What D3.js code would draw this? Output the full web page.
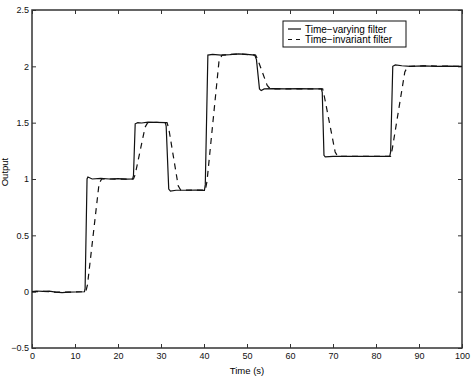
<!DOCTYPE html>
<html>
<head>
<meta charset="utf-8">
<script src="https://cdn.jsdelivr.net/npm/d3@7"></script>
<style>
  body { margin: 0; background: #fff; }
  text { font-family: "Liberation Sans", Arial, Helvetica, sans-serif; }
</style>
</head>
<body>
<div id="chart"></div>
<script>
// [time, output] pairs
const timeVarying = [
  [0, 0], [1, 0.006], [2.5, 0.002], [4, 0.004], [5.5, -0.004], [7, -0.009], [8.5, -0.004],
  [10, -0.003], [12.2, -0.001], [12.35, 0.03], [12.8, 1.0], [13.0, 1.018], [14, 1.0],
  [16, 1.005], [18, 1.0], [20, 1.004], [22, 0.999], [23.4, 1.0], [23.6, 1.03], [24.0, 1.49],
  [24.6, 1.5], [25.5, 1.497], [27, 1.505], [29, 1.502], [31.0, 1.5], [31.2, 1.47], [31.8, 0.91],
  [32.2, 0.892], [33.5, 0.9], [36, 0.9], [38, 0.902], [40.1, 0.9], [40.3, 0.95], [40.9, 2.1],
  [42, 2.106], [44, 2.1], [46, 2.104], [48, 2.11], [50, 2.106], [51.8, 2.1], [52.2, 2.06],
  [52.9, 1.8], [53.3, 1.785], [54, 1.8], [56, 1.802], [59, 1.8], [62, 1.803], [65, 1.8],
  [67.3, 1.8], [67.5, 1.77], [67.9, 1.21], [68.2, 1.196], [70, 1.2], [73, 1.202], [76, 1.2],
  [80, 1.2], [83.2, 1.2], [83.4, 1.24], [83.9, 2.0], [84.5, 2.012], [86, 2.005], [88, 2.0],
  [91, 2.004], [94, 2.0], [97, 2.002], [100, 2.0]
];

const timeInvariant = [
  [0, 0], [2.5, 0.002], [5.5, -0.004], [8.5, -0.004], [12.5, 0], [12.9, 0.06], [15.6, 0.96],
  [16.2, 1.0], [18, 1.0], [22, 0.999], [23.6, 1.0], [24.0, 1.04], [26.3, 1.46], [26.9, 1.5],
  [29, 1.502], [31.4, 1.5], [31.8, 1.45], [34.0, 0.94], [34.6, 0.9], [38, 0.902], [40.3, 0.9],
  [40.7, 0.98], [43.5, 2.05], [44.2, 2.1], [48, 2.11], [52.0, 2.1], [52.5, 2.06], [54.7, 1.83],
  [55.4, 1.8], [59, 1.8], [65, 1.8], [67.6, 1.8], [68.0, 1.73], [70.5, 1.24], [71.1, 1.2],
  [76, 1.2], [83.4, 1.2], [83.8, 1.27], [86.7, 1.95], [87.4, 2.0], [91, 2.004], [100, 2.0]
];

const xTicks = [0, 10, 20, 30, 40, 50, 60, 70, 80, 90, 100];
const yTicks = [-0.5, 0, 0.5, 1, 1.5, 2, 2.5];
const seriesNames = ["Time\u2212varying filter", "Time\u2212invariant filter"];

const W = 474, H = 377;
const margin = {top: 10, right: 12, bottom: 29, left: 32};
const width = W - margin.left - margin.right,
      height = H - margin.top - margin.bottom;

const svg = d3.select("#chart")
  .append("svg")
  .attr("width", W)
  .attr("height", H)
  .append("g")
  .attr("transform", `translate(${margin.left},${margin.top})`);

const x = d3.scaleLinear().domain([0, 100]).range([0, width]);
const y = d3.scaleLinear().domain([-0.5, 2.5]).range([height, 0]);

const fmt = d => d < 0 ? "\u2212" + Math.abs(d) : String(d);

// bottom axis with labels, ticks pointing inward
svg.append("g")
  .attr("class", "axis")
  .attr("transform", `translate(0,${height})`)
  .call(d3.axisBottom(x).tickValues(xTicks).tickSizeInner(-4).tickSizeOuter(0).tickPadding(5).tickFormat(fmt));

svg.append("g")
  .attr("class", "axis")
  .call(d3.axisLeft(y).tickValues(yTicks).tickSizeInner(-4).tickSizeOuter(0).tickPadding(3).tickFormat(fmt));

// top and right: ticks only
svg.append("g")
  .attr("class", "axis")
  .call(d3.axisTop(x).tickValues(xTicks).tickSizeInner(-4).tickSizeOuter(0).tickFormat(""));

svg.append("g")
  .attr("class", "axis")
  .attr("transform", `translate(${width},0)`)
  .call(d3.axisRight(y).tickValues(yTicks).tickSizeInner(-4).tickSizeOuter(0).tickFormat(""));

svg.selectAll(".axis .domain").remove();
svg.selectAll(".axis line").attr("stroke", "#333").attr("stroke-width", 1);
svg.selectAll(".axis text").attr("fill", "#111").style("font-size", "9px");

// frame
svg.append("rect")
  .attr("width", width)
  .attr("height", height)
  .attr("fill", "none")
  .attr("stroke", "#333")
  .attr("stroke-width", 1.5);

const line = d3.line()
  .x(d => x(d[0]))
  .y(d => y(d[1]));

svg.append("path")
  .datum(timeInvariant)
  .attr("fill", "none")
  .attr("stroke", "#111")
  .attr("stroke-width", 1.2)
  .attr("stroke-dasharray", "6,5")
  .attr("d", line);

svg.append("path")
  .datum(timeVarying)
  .attr("fill", "none")
  .attr("stroke", "#111")
  .attr("stroke-width", 1.2)
  .attr("d", line);

// axis titles
svg.append("text")
  .attr("x", width / 2)
  .attr("y", height + 26)
  .attr("text-anchor", "middle")
  .style("font-size", "9.5px")
  .text("Time (s)");

svg.append("text")
  .attr("transform", `translate(${-24},${162}) rotate(-90)`)
  .attr("text-anchor", "middle")
  .style("font-size", "9.5px")
  .text("Output");

// legend
const legend = svg.append("g").attr("transform", `translate(${283 - margin.left},${21 - margin.top})`);
legend.append("rect")
  .attr("width", 123)
  .attr("height", 26)
  .attr("fill", "#fff")
  .attr("stroke", "#111")
  .attr("stroke-width", 1);

seriesNames.forEach((name, i) => {
  const yy = 8 + i * 10.5;
  legend.append("line")
    .attr("x1", 5).attr("x2", 18)
    .attr("y1", yy).attr("y2", yy)
    .attr("stroke", "#111")
    .attr("stroke-width", 1.2)
    .attr("stroke-dasharray", i === 1 ? "4,4" : null);
  legend.append("text")
    .attr("x", 22)
    .attr("y", yy)
    .attr("dy", "0.35em")
    .style("font-size", "10px")
    .text(name);
});
</script>
</body>
</html>
